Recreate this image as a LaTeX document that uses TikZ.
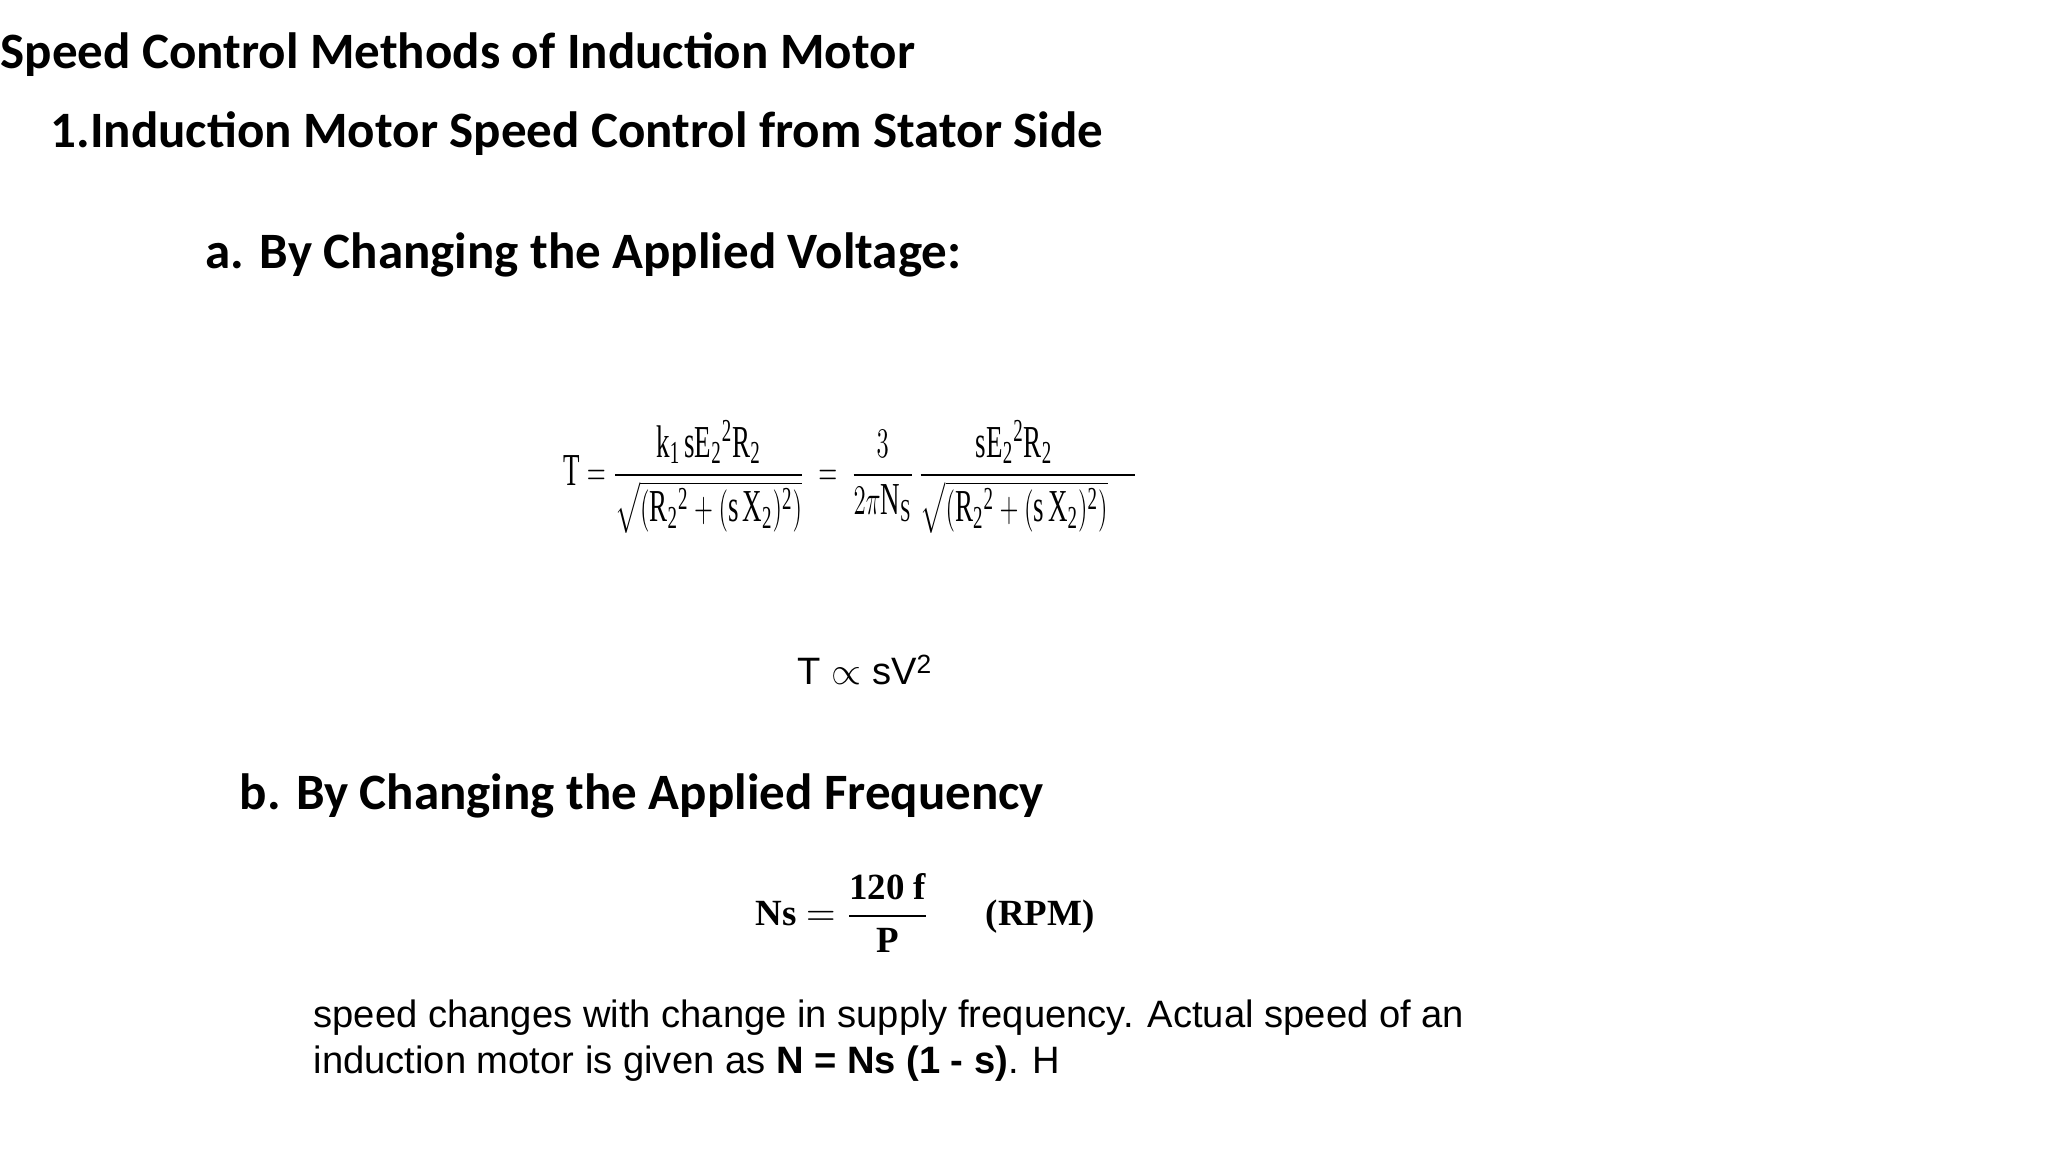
\documentclass[tikz,border=0pt]{standalone}
\usepackage{amsmath}
\usepackage{fontspec}
\setmainfont{Liberation Serif}
\newfontfamily\hfont{Carlito}
\newfontfamily\afont{Liberation Sans}
\begin{document}
\begin{tikzpicture}[x=0.01cm,y=-0.01cm,
  head/.style={anchor=base west,inner sep=0,font=\hfont\bfseries\fontsize{14.5}{16}\selectfont},
  body/.style={anchor=base west,inner sep=0,font=\afont\fontsize{10.85}{13}\selectfont,align=left}]
\useasboundingbox (0,0) rectangle (2048,1152);
\node[head] (t) at (0,69) {Speed Control Methods of Induction Motor};
\node[head] (s1) at (50,148) {1.Induction Motor Speed Control from Stator Side};
\node[head] (sa) at (205,269) {a. By Changing the Applied Voltage:};
\node[anchor=west,inner sep=0,xscale=0.59,font=\fontsize{13}{15}\selectfont] (f1) at (563,477)
 {$\mathrm{T}=\dfrac{\mathrm{k_1\,sE_2{}^2R_2}}{\sqrt{(\mathrm{R_2{}^2+(s\,X_2)^2})}}\;=\;\dfrac{3}{2\pi\mathrm{N_S}}\,\dfrac{\mathrm{sE_2{}^2R_2}\quad}{\sqrt{(\mathrm{R_2{}^2+(s\,X_2)^2})}\quad}$};
\node[body] (tp) at (797,684) {T $\propto$ sV\raisebox{0.5ex}{\fontsize{7.5}{8}\selectfont 2}};
\node[head] (sb) at (239,809) {b. By Changing the Applied Frequency};
\node[anchor=west,inner sep=0,font=\fontsize{10.5}{12}\selectfont] (f2) at (755,913)
 {\bfseries Ns $=$ $\dfrac{\textbf{120 f}}{\textbf{P}}$\quad\ \ (RPM)};
\node[body] (p) at (313,1073) {speed changes with change in supply frequency. Actual speed of an\\induction motor is given as \textbf{N = Ns (1 - s)}. H};
\end{tikzpicture}
\end{document}
